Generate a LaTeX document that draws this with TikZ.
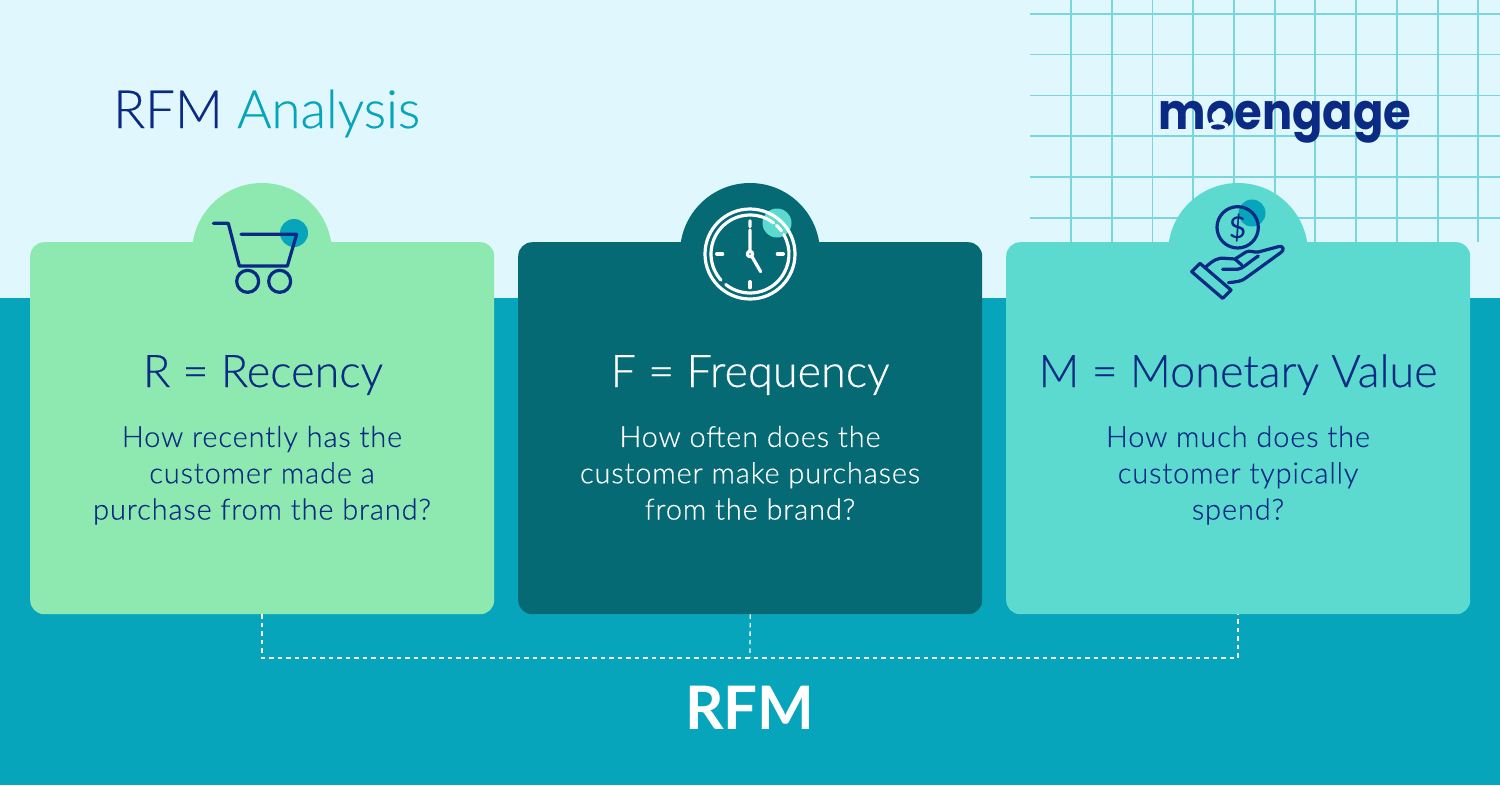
\documentclass[tikz,border=0pt]{standalone}
\usepackage{fontspec}
\setmainfont{Lato Light}[FakeBold=0.35]
\newfontfamily\boldf{Lato Bold}
\newfontfamily\dolf{Lato}
\newfontfamily\logof{Poppins}[UprightFont=*-Bold]
\definecolor{bgl}{HTML}{E0F8FD}
\definecolor{bgt}{HTML}{07A5BC}
\definecolor{cgreen}{HTML}{8DE9AF}
\definecolor{cdark}{HTML}{056A74}
\definecolor{cturq}{HTML}{5CDAD0}
\definecolor{navy}{HTML}{0B2A84}
\definecolor{gridc}{HTML}{7AD6DC}
\tikzset{
 card/.style={rectangle,rounded corners=14pt,minimum width=464pt,minimum height=372pt,inner sep=0pt,anchor=north west},
 head/.style={inner sep=0pt,anchor=base,font=\fontsize{45}{49}\selectfont},
 body/.style={inner sep=0pt,align=center,font=\addfontfeatures{LetterSpace=3}\fontsize{29}{36.3}\selectfont},
 link/.style={white,line width=1.3pt,dash pattern=on 4.5pt off 4pt},
 ic/.style={line width=3.2pt,line cap=round,line join=round},
 gridl/.style={gridc,line width=1.3pt}
}
\begin{document}
\begin{tikzpicture}[x=1pt,y=-1pt]
\useasboundingbox (0,0) rectangle (1500,785);
\fill[bgl] (0,0) rectangle (1500,298);
\fill[bgt] (0,298) rectangle (1500,785);
% grid
\foreach \y in {14,54.5,95.5,136,177,218} \draw[gridl] (1030,\y) -- (1500,\y);
\foreach \x in {1071,1112,1152.5,1193,1234,1275,1315,1356,1397,1438,1478} \draw[gridl] (\x,0) -- (\x,242);
% tabs and cards
\fill[cgreen] (262,253) circle (70);
\fill[cdark] (750,253) circle (70);
\fill[cturq] (1238,253) circle (70);
\node[card,fill=cgreen] (c1) at (30,242) {};
\node[card,fill=cdark] (c2) at (518,242) {};
\node[card,fill=cturq] (c3) at (1006,242) {};
% title
\node[inner sep=0pt,anchor=base west,font=\fontsize{52.7}{56}\selectfont] (title) at (113,128) {\textcolor{navy}{RFM} \textcolor{bgt}{Analysis}};
% logo
\node[inner sep=0pt,anchor=base,text=navy,font=\logof\fontsize{50}{54}\selectfont] (logo) at (1285,129) {\scalebox{0.896}[1]{moengage}};
\fill[bgl] (1218,126) ellipse (10.5 and 5);
\fill[navy] (1218,127) ellipse (7 and 2.6);
\fill[bgl] (1218,116.5) circle (6.2);
% headings
\node[head,text=navy] (h1) at (263,387) {R = Recency};
\node[head,text=white] (h2) at (750,387) {F = Frequency};
\node[head,text=navy] (h3) at (1238,387) {M = Monetary Value};
\node[body,text=navy] (b1) at (262,476) {\strut How recently has the\\customer made a\\purchase from the brand?\strut};
\node[body,text=white] (b2) at (750,476) {\strut How often does the\\customer make purchases\\from the brand?\strut};
\node[body,text=navy] (b3) at (1238,476) {\strut How much does the\\customer typically\\spend?\strut};
% cart
\fill[bgt] (294,233) circle (14);
\begin{scope}[shift={(180,170)},scale=1/3]
\draw[navy,ic] (100,160) -- (145,160) -- (178,288) -- (322,288) -- (350,193) -- (183,193);
\draw[navy,ic] (203,334) circle (33) (299,334) circle (33);
\end{scope}
% clock
\fill[cturq] (777,223) circle (14.5);
\begin{scope}[shift={(670,170)},scale=1/3]
\draw[white,ic] (240,252) circle (135);
\draw[white,ic] ([shift={(240,252)}]128.5:117) arc (128.5:-30:117);
\draw[white,ic] ([shift={(240,252)}]-36:117) arc (-36:-47:117);
\draw[white,ic] ([shift={(240,252)}]-53:117) arc (-53:-222:117);
\draw[white,ic] (240,252) circle (8);
\draw[white,ic] (240,152) -- (240,170) (240,180) -- (240,242) (246,260) -- (272,305);
\draw[white,ic] (140,252) -- (158,252) (322,252) -- (340,252) (240,335) -- (240,353);
\end{scope}
% coin and hand
\fill[bgt] (1252,213) circle (13.5);
\begin{scope}[shift={(1150,170)},scale=1/3]
\draw[navy,ic] (263,172) circle (62);
\node[inner sep=0pt,text=navy,font=\dolf\fontsize{30}{30}\selectfont] (dollar) at (263,174) {\$};
\draw[navy,ic] (125,305) -- (150,280) -- (243,360) -- (218,385) -- cycle;
\draw[navy,ic] (165,293) .. controls (190,270) and (205,262) .. (225,265) -- (255,267) -- (288,246) .. controls (300,240) and (310,248) .. (325,246) -- (385,230) .. controls (400,225) and (405,240) .. (392,248) -- (290,322) .. controls (275,335) and (260,335) .. (235,338);
\draw[navy,ic] (218,298) -- (262,298) .. controls (280,295) and (285,285) .. (325,258);
\draw[navy,ic] (255,267) -- (275,285);
\end{scope}
% connectors
\coordinate (j1) at (262,658);
\coordinate (j2) at (750,658);
\coordinate (j3) at (1238,658);
\draw[link] (j1 |- c1.south) -- (j1) -- (j3) -- (j3 |- c3.south);
\draw[link] (c2.south) -- (j2);
\node[inner sep=0pt,anchor=base,text=white,font=\boldf\fontsize{60}{64}\selectfont] (rfm) at (750,729) {RFM};
\end{tikzpicture}
\end{document}
